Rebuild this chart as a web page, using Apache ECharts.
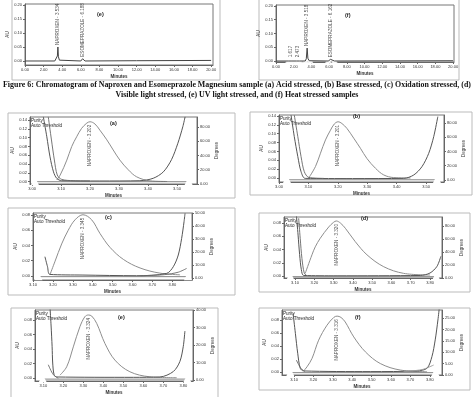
<!DOCTYPE html>
<html><head><meta charset="utf-8">
<script src="https://cdn.jsdelivr.net/npm/echarts@6/dist/echarts.min.js"></script>
<style>html,body{margin:0;padding:0;background:#fff}#c{width:474px;height:397px}</style>
</head><body><div id="c"></div>
<script>
// ---------------- DATA ----------------
// Top chromatograms (AU vs Minutes)
const chromTicksX = [0,2,4,6,8,10,12,14,16,18,20];
const chromTicksY = [0,0.05,0.10,0.15,0.20];
const chromE = [[0,0],[3.20,0],[3.40,0.004],[3.48,0.018],[3.534,0.050],[3.59,0.015],[3.70,0.003],[3.90,0],[6.00,0],[6.12,0.003],[6.188,0.008],[6.27,0.002],[6.45,0],[12,0.001],[20,0.002]];
const chromEPeakPts = [[3.534,0.050],[6.188,0.008]];
const chromEPeakNames = ['NAPROXEN - 3.534','ESOMEPRAZOLE - 6.188'];
const chromEMarks = [[3.2,0],[4.1,0],[6.0,0],[6.7,0]];
const chromF = [[0,0],[1.45,0],[1.617,0.006],[1.8,0],[2.3,0],[2.473,0.006],[2.65,0],[3.30,0],[3.42,0.008],[3.518,0.047],[3.60,0.010],[3.75,0.001],[5.90,0],[6.05,0.002],[6.162,0.006],[6.30,0.001],[6.6,0],[20,0.001]];
const chromFPeakPts = [[1.617,0.006],[2.473,0.006],[3.518,0.047],[6.162,0.006]];
const chromFPeakNames = ['1.617','2.473','NAPROXEN - 3.518','ESOMEPRAZOLE - 6.162'];
const chromFMarks = [[1.4,0],[1.85,0],[2.3,0],[2.7,0],[3.3,0],[3.85,0],[5.9,0],[6.6,0]];

// Purity plots
const aTicksX = [3.0,3.1,3.2,3.3,3.4,3.5];
const aTicksAU = [0,0.02,0.04,0.06,0.08,0.10,0.12,0.14];
const aTicksDeg = [0,20,40,60,80];
const aPeak = [[3.085,0.004],[3.097,0.015],[3.120,0.049],[3.137,0.080],[3.154,0.102],[3.171,0.121],[3.189,0.133],[3.200,0.136],[3.217,0.131],[3.234,0.117],[3.258,0.095],[3.280,0.072],[3.303,0.049],[3.332,0.027],[3.361,0.011],[3.407,0.002],[3.466,0.0005]];
const aPurity = [[3.039,94],[3.051,66],[3.062,38],[3.074,17],[3.085,8],[3.102,4.6],[3.234,4.2],[3.372,4.6],[3.418,8],[3.453,17],[3.481,34],[3.503,57],[3.520,80],[3.528,94]];
const aPurity2 = [[3.056,94],[3.067,61.6],[3.077,33.6],[3.087,12.6],[3.102,6.5],[3.142,4.6],[3.20,4.2]];
const aBase = [[3.01,0],[3.54,0]];
const aLabel = [[3.200,0.136]];
const aName = 'NAPROXEN - 3.202';

const bTicksX = [3.0,3.1,3.2,3.3,3.4,3.5];
const bTicksAU = [0,0.02,0.04,0.06,0.08,0.10,0.12,0.14];
const bTicksDeg = [0,20,40,60,80];
const bPeak = [[3.101,0.000],[3.124,0.026],[3.141,0.056],[3.158,0.086],[3.175,0.108],[3.188,0.122],[3.201,0.127],[3.214,0.123],[3.231,0.112],[3.254,0.090],[3.277,0.067],[3.299,0.044],[3.328,0.022],[3.356,0.007],[3.390,0.001],[3.447,0.0]];
const bPurity = [[3.041,91],[3.052,60.8],[3.064,32.8],[3.075,11.7],[3.089,2.3],[3.25,2.0],[3.424,2.3],[3.458,7],[3.486,18.7],[3.509,37.4],[3.526,60.8],[3.540,88.9]];
const bPurity2 = [[3.052,91],[3.064,60.8],[3.075,32.8],[3.086,11.7],[3.101,3.7],[3.152,2.3]];
const bBase = [[3.027,-0.004],[3.537,-0.004]];
const bLabel = [[3.201,0.127]];
const bName = 'NAPROXEN - 3.201';

const cTicksX = [3.1,3.2,3.3,3.4,3.5,3.6,3.7,3.8,3.9];
const cTicksAU = [0,0.02,0.04,0.06,0.08];
const cTicksDeg = [0,10,20,30,40,50];
const cPeak = [[3.185,0.0014],[3.211,0.0194],[3.244,0.042],[3.277,0.060],[3.311,0.0737],[3.351,0.0804],[3.395,0.0737],[3.437,0.0556],[3.487,0.0375],[3.554,0.0217],[3.638,0.0104],[3.738,0.0036],[3.839,0.0014]];
const cPurity = [[3.160,16.4],[3.173,8.7],[3.185,2.8],[3.351,2.3],[3.620,1.8],[3.772,3.6],[3.805,8.7],[3.830,17.7],[3.847,30.5],[3.859,43.3],[3.864,49.7]];
const cPurity2 = [[3.640,1.8],[3.760,2.6],[3.830,4.5],[3.872,7.4]];
const cBase = [[3.127,-0.001],[3.879,-0.001]];
const cLabel = [[3.351,0.0804]];
const cName = 'NAPROXEN - 3.345';

const dTicksX = [3.1,3.2,3.3,3.4,3.5,3.6,3.7,3.8];
const dTicksAU = [0,0.02,0.04,0.06,0.08];
const dTicksDeg = [0,20,40,60,80];
const dPeak = [[3.153,0.004],[3.188,0.032],[3.205,0.044],[3.231,0.057],[3.275,0.074],[3.300,0.081],[3.314,0.083],[3.335,0.080],[3.361,0.072],[3.412,0.052],[3.473,0.032],[3.560,0.014],[3.663,0.004],[3.800,0.0015]];
const dPurity = [[3.107,97],[3.116,66],[3.124,35.9],[3.133,12.8],[3.145,3.9],[3.318,3.4],[3.749,3.9],[3.800,7.7],[3.836,17.9],[3.856,33.3]];
const dPurity2 = [[3.119,91.8],[3.127,61],[3.136,30],[3.148,7.7],[3.162,3.4]];
const dBase = [[3.076,-0.001],[3.832,-0.001]];
const dLabel = [[3.314,0.083]];
const dName = 'NAPROXEN - 3.320';

const eTicksX = [3.1,3.2,3.3,3.4,3.5,3.6,3.7,3.8];
const eTicksAU = [0,0.02,0.04,0.06,0.08];
const eTicksDeg = [0,10,20,30,40];
const ePeak = [[3.183,0.004],[3.217,0.0156],[3.250,0.043],[3.283,0.0708],[3.308,0.0846],[3.325,0.0869],[3.342,0.0855],[3.367,0.0754],[3.408,0.0478],[3.458,0.0248],[3.533,0.0087],[3.633,0.0018],[3.767,0.0005]];
const ePurity = [[3.134,40.6],[3.139,30.9],[3.144,19.3],[3.147,9.7],[3.154,3.0],[3.167,1.7],[3.550,1.5],[3.683,1.7],[3.750,4.8],[3.783,10.6],[3.800,19.3],[3.808,28.0]];
const ePurity2 = [[3.125,8.7],[3.150,3.0],[3.175,1.0]];
const eBase = [[3.097,-0.0014],[3.820,-0.0014]];
const eLabel = [[3.325,0.0869]];
const eName = 'NAPROXEN - 3.324';

const fTicksX = [3.1,3.2,3.3,3.4,3.5,3.6,3.7,3.8];
const fTicksAU = [0,0.02,0.04,0.06,0.08];
const fTicksDeg = [0,5,10,15,20,25];
const fPeak = [[3.150,0.002],[3.167,0.008],[3.193,0.021],[3.227,0.049],[3.270,0.072],[3.305,0.084],[3.322,0.086],[3.342,0.084],[3.364,0.077],[3.408,0.054],[3.468,0.031],[3.545,0.013],[3.648,0.003],[3.786,0.0005]];
const fPurity = [[3.095,27.3],[3.107,18.4],[3.119,9.6],[3.132,3.0],[3.149,1.8],[3.493,1.5],[3.734,1.8],[3.786,3.0],[3.811,8.1],[3.828,15.5],[3.842,24.3],[3.849,29.5]];
const fPurity2 = [[3.112,6.6],[3.135,3.0],[3.157,1.5]];
const fTail = [[3.665,1.5],[3.760,2.4],[3.820,4.4]];
const fBase = [[3.081,-0.001],[3.829,-0.001]];
const fLabel = [[3.322,0.086]];
const fName = 'NAPROXEN - 3.316';

const captionLines = ['Figure 6: Chromatogram of Naproxen and Esomeprazole Magnesium sample (a) Acid stressed, (b) Base stressed, (c) Oxidation stressed, (d)',
  'Visible light stressed, (e) UV light stressed, and (f) Heat stressed samples'];

// ---------------- LAYOUT / BUILD ----------------
const FF = '"Liberation Sans", Arial, sans-serif';
const TXT = '#333';
const grids = [], xAxes = [], yAxes = [], series = [], graphics = [];
const f2 = v => v.toFixed(2);

function xAxisFor(gi, min, max, ticks){
  xAxes.push({type:'value', gridIndex:gi, min, max, name:'Minutes', nameLocation:'middle', nameGap:9,
    nameTextStyle:{fontSize:4.5, fontWeight:'bold', color:TXT, fontFamily:FF},
    axisLine:{show:true, onZero:false, lineStyle:{color:'#666', width:1}},
    axisTick:{show:true, length:2, customValues:ticks, lineStyle:{color:'#666'}},
    axisLabel:{customValues:ticks, formatter:f2, fontSize:4, margin:3, color:TXT, fontFamily:FF},
    splitLine:{show:false}});
  return xAxes.length-1;
}
function yAxisFor(gi, min, max, ticks, name, pos, gap){
  yAxes.push({type:'value', gridIndex:gi, min, max, position:pos, name, nameLocation:'middle', nameGap:gap,
    nameTextStyle:{fontSize:4.5, color:TXT, fontFamily:FF},
    axisLine:{show:true, onZero:false, lineStyle:{color:'#666', width:1}},
    axisTick:{show:true, length:2, customValues:ticks, lineStyle:{color:'#666'}},
    axisLabel:{customValues:ticks, formatter:f2, fontSize:4, margin:3, color:TXT, fontFamily:FF},
    splitLine:{show:false}});
  return yAxes.length-1;
}
function labelSeries(xi, yi, pts, names, up){
  series.push({type:'scatter', xAxisIndex:xi, yAxisIndex:yi, symbolSize:0.1, itemStyle:{color:'rgba(0,0,0,0)'}, silent:true,
    data: pts.map((p,i)=>({value:p, name:names[i]})),
    label:{show:true, formatter:p=>p.name, rotate:90, position: up?'top':'bottom', distance: up?2:3,
      align: up?'left':'right', verticalAlign:'middle', fontSize:4.6, color:'#222', fontFamily:FF}});
}
function frame(x,y,w,h){
  graphics.push({type:'rect', shape:{x,y,width:w,height:h}, style:{fill:'none', stroke:'#bbb', lineWidth:1}, silent:true});
}
function text(x,y,t,size,bold){
  graphics.push({type:'text', x, y, style:{text:t, fill:'#222', font:(bold?'bold ':'')+size+'px '+FF, textVerticalAlign:'top'}, silent:true});
}

// Top chromatograms
function chrom(box, data, peakPts, peakNames, marks, letter){
  const gi = grids.length;
  grids.push({left:box.left, top:box.top, width:box.w, height:box.h, show:true, borderColor:'#777', borderWidth:1, containLabel:false});
  const xi = xAxisFor(gi, box.xMin, box.xMax, chromTicksX);
  const yi = yAxisFor(gi, box.yMin, box.yMax, chromTicksY, 'AU', 'left', 12);
  series.push({type:'line', xAxisIndex:xi, yAxisIndex:yi, data, showSymbol:false, lineStyle:{color:'#444', width:1}, silent:true});
  series.push({type:'scatter', xAxisIndex:xi, yAxisIndex:yi, data:marks, symbol:'emptyTriangle', symbolSize:4, itemStyle:{color:'#fff', borderColor:'#555', borderWidth:0.8}, silent:true});
  labelSeries(xi, yi, peakPts, peakNames, true);
  text(letter[0], letter[1], letter[2], 5.5, true);
}
frame(12,-2,208,82);
frame(259,-2,200,82);
chrom({left:25, top:4, w:188, h:61, xMin:0, xMax:20.2, yMin:-0.0143, yMax:0.2036}, chromE, chromEPeakPts, chromEPeakNames, chromEMarks, [97,11,'(e)']);
chrom({left:276, top:5, w:178, h:57, xMin:0, xMax:20.1, yMin:-0.0036, yMax:0.2036}, chromF, chromFPeakPts, chromFPeakNames, chromFMarks, [345,12,'(f)']);

// Purity panels
function purity(box, tx, tau, tdeg, peak, p1, p2, tail, base, lab, name, letter, fr){
  frame(fr[0], fr[1], fr[2], fr[3]);
  const gi = grids.length;
  grids.push({left:box.left, top:box.top, width:box.w, height:box.h, show:true, borderColor:'#777', borderWidth:1, containLabel:false});
  const xi = xAxisFor(gi, box.x[0], box.x[1], tx);
  const yl = yAxisFor(gi, box.au[0], box.au[1], tau, 'AU', 'left', 12);
  const yr = yAxisFor(gi, box.deg[0], box.deg[1], tdeg, 'Degrees', 'right', 14);
  series.push({type:'line', xAxisIndex:xi, yAxisIndex:yl, data:peak, showSymbol:false, smooth:0.35, lineStyle:{color:'#8e8e8e', width:1}, silent:true});
  series.push({type:'line', xAxisIndex:xi, yAxisIndex:yr, data:p1, showSymbol:false, smooth:0.3, lineStyle:{color:'#555', width:1}, silent:true});
  series.push({type:'line', xAxisIndex:xi, yAxisIndex:yr, data:p2, showSymbol:false, smooth:0.3, lineStyle:{color:'#666', width:0.9}, silent:true});
  if (tail) series.push({type:'line', xAxisIndex:xi, yAxisIndex:yr, data:tail, showSymbol:false, smooth:0.3, lineStyle:{color:'#999', width:0.9}, silent:true});
  series.push({type:'line', xAxisIndex:xi, yAxisIndex:yl, data:base, symbol:'emptyTriangle', symbolSize:5, showSymbol:true, lineStyle:{color:'#666', width:0.8}, itemStyle:{color:'#fff', borderColor:'#555', borderWidth:0.8}, silent:true});
  labelSeries(xi, yl, lab, [name], false);
  text(box.left+1, box.top+1, 'Purity', 4.6, false);
  text(box.left+1, box.top+6, 'Auto Threshold', 4.6, false);
  text(letter[0], letter[1], letter[2], 5.5, true);
}
purity({left:30, top:117, w:167, h:67, x:[2.993,3.569], au:[-0.0052,0.1468], deg:[0,93.7]}, aTicksX, aTicksAU, aTicksDeg, aPeak, aPurity, aPurity2, null, aBase, aLabel, aName, [110,120,'(a)'], [8,113,227,85]);
purity({left:279, top:115, w:165, h:67, x:[3.0,3.561], au:[-0.009,0.1423], deg:[-2.8,91.2]}, bTicksX, bTicksAU, bTicksDeg, bPeak, bPurity, bPurity2, null, bBase, bLabel, bName, [353,113,'(b)'], [250,112,222,83]);
purity({left:33, top:213, w:159, h:67, x:[3.1,3.899], au:[-0.0054,0.0827], deg:[-1.5,50]}, cTicksX, cTicksAU, cTicksDeg, cPeak, cPurity, cPurity2, null, cBase, cLabel, cName, [105,214,'(c)'], [8,208,227,87]);
purity({left:284, top:217, w:158, h:61, x:[3.043,3.862], au:[-0.003,0.089], deg:[0,93.8]}, dTicksX, dTicksAU, dTicksDeg, dPeak, dPurity, dPurity2, null, dBase, dLabel, dName, [361,215,'(d)'], [259,213,211,79]);
purity({left:35, top:310, w:158, h:71, x:[3.0585,3.8485], au:[-0.004,0.0938], deg:[-0.6,40.06]}, eTicksX, eTicksAU, eTicksDeg, ePeak, ePurity, ePurity2, null, eBase, eLabel, eName, [118,314,'(e)'], [11,308,207,95]);
purity({left:282, top:310, w:160, h:65, x:[3.038,3.863], au:[-0.0046,0.0954], deg:[0,28.7]}, fTicksX, fTicksAU, fTicksDeg, fPeak, fPurity, fPurity2, fTail, fBase, fLabel, fName, [355,314,'(f)'], [259,308,211,82]);

// caption
captionLines.forEach((t,i)=>{
  graphics.push({type:'text', x:237, y:85+i*10, style:{text:t, fill:'#111', font:'bold 7.9px "Liberation Serif", "Times New Roman", serif', textAlign:'center', textVerticalAlign:'middle'}, silent:true});
});

const chart = echarts.init(document.getElementById('c'), null, {renderer:'canvas'});
chart.setOption({animation:false, backgroundColor:'#fff', grid:grids, xAxis:xAxes, yAxis:yAxes, series, graphic:graphics});
</script></body></html>
